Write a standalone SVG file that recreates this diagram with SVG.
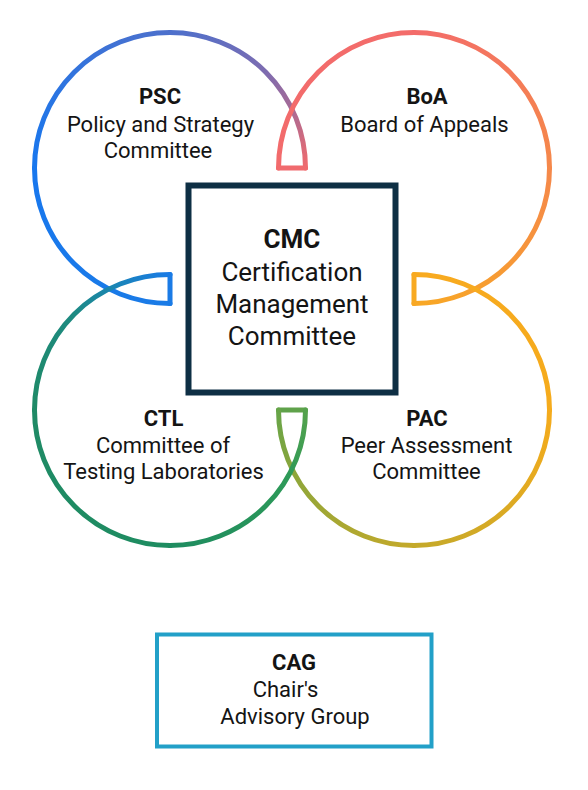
<svg xmlns="http://www.w3.org/2000/svg" width="588" height="790" viewBox="0 0 588 790">
  <style>
    .ring { fill: none; stroke-width: 5; stroke-linecap: round; }
    .lbl { font-family: Roboto, "Liberation Sans", sans-serif; font-size: 22px; fill: #141414; text-anchor: middle; }
    .b { font-weight: bold; }
    .cmc { font-size: 26px; }
  </style>
  <defs>
    <linearGradient id="gPSC1" gradientUnits="userSpaceOnUse" x1="170" y1="303.5" x2="34.5" y2="168"><stop offset="0" stop-color="#1a7be6"/><stop offset="1" stop-color="#1877ee"/></linearGradient>
    <linearGradient id="gPSC2" gradientUnits="userSpaceOnUse" x1="34.5" y1="168" x2="170" y2="32.5"><stop offset="0" stop-color="#1877ee"/><stop offset="1" stop-color="#4d70cc"/></linearGradient>
    <linearGradient id="gPSC3" gradientUnits="userSpaceOnUse" x1="170" y1="32.5" x2="305.5" y2="168"><stop offset="0" stop-color="#4d70cc"/><stop offset="0.5" stop-color="#7e6cb0"/><stop offset="0.73" stop-color="#a66a95"/><stop offset="1" stop-color="#f06b6e"/></linearGradient>
    <linearGradient id="gBoA1" gradientUnits="userSpaceOnUse" x1="278.5" y1="168" x2="414" y2="32.5"><stop offset="0" stop-color="#f26b6c"/><stop offset="1" stop-color="#f36c6a"/></linearGradient>
    <linearGradient id="gBoA2" gradientUnits="userSpaceOnUse" x1="414" y1="32.5" x2="549.5" y2="168"><stop offset="0" stop-color="#f36c6a"/><stop offset="1" stop-color="#f5884a"/></linearGradient>
    <linearGradient id="gBoA3" gradientUnits="userSpaceOnUse" x1="549.5" y1="168" x2="414" y2="303.5"><stop offset="0" stop-color="#f5884a"/><stop offset="1" stop-color="#f8a824"/></linearGradient>
    <linearGradient id="gPAC1" gradientUnits="userSpaceOnUse" x1="414" y1="274.5" x2="549.5" y2="410"><stop offset="0" stop-color="#f8aa20"/><stop offset="1" stop-color="#f5ab1c"/></linearGradient>
    <linearGradient id="gPAC2" gradientUnits="userSpaceOnUse" x1="549.5" y1="410" x2="414" y2="545.5"><stop offset="0" stop-color="#f5ab1c"/><stop offset="1" stop-color="#c4a92a"/></linearGradient>
    <linearGradient id="gPAC3" gradientUnits="userSpaceOnUse" x1="414" y1="545.5" x2="278.5" y2="410"><stop offset="0" stop-color="#c4a92a"/><stop offset="0.7" stop-color="#8ea63a"/><stop offset="1" stop-color="#66a448"/></linearGradient>
    <linearGradient id="gCTL1" gradientUnits="userSpaceOnUse" x1="305.5" y1="410" x2="170" y2="545.5"><stop offset="0" stop-color="#55a24c"/><stop offset="0.3" stop-color="#2e9a58"/><stop offset="1" stop-color="#1e8c60"/></linearGradient>
    <linearGradient id="gCTL2" gradientUnits="userSpaceOnUse" x1="170" y1="545.5" x2="34.5" y2="410"><stop offset="0" stop-color="#1e8c60"/><stop offset="1" stop-color="#1f8a66"/></linearGradient>
    <linearGradient id="gCTL3" gradientUnits="userSpaceOnUse" x1="34.5" y1="410" x2="170" y2="274.5"><stop offset="0" stop-color="#1f8a66"/><stop offset="0.5" stop-color="#1d8a82"/><stop offset="0.73" stop-color="#1a86b0"/><stop offset="1" stop-color="#1a7be6"/></linearGradient>
  </defs>
  <rect width="588" height="790" fill="#ffffff"/>

  <g id="connectors">
    <path class="ring" stroke="#f06b6e" d="M 305.5 168 L 278.5 168"/>
    <path class="ring" stroke="#f8aa22" d="M 414 303.5 L 414 274.5"/>
    <path class="ring" stroke="#5fa24a" d="M 278.5 410 L 305.5 410"/>
    <path class="ring" stroke="#1a7be6" d="M 170 274.5 L 170 303.5"/>
  </g>

  <g id="PSC">
    <path class="ring" stroke="url(#gPSC1)" d="M 170 303.5 A 135.5 135.5 0 0 1 34.5 168"/>
    <path class="ring" stroke="url(#gPSC2)" d="M 34.5 168 A 135.5 135.5 0 0 1 170 32.5"/>
    <path class="ring" stroke="url(#gPSC3)" d="M 170 32.5 A 135.5 135.5 0 0 1 305.5 168"/>
    <text class="lbl b" x="160" y="104">PSC</text>
    <text class="lbl" x="160.5" y="131.5">Policy and Strategy</text>
    <text class="lbl" x="158" y="158">Committee</text>
  </g>

  <g id="BoA">
    <path class="ring" stroke="url(#gBoA1)" d="M 278.5 168 A 135.5 135.5 0 0 1 414 32.5"/>
    <path class="ring" stroke="url(#gBoA2)" d="M 414 32.5 A 135.5 135.5 0 0 1 549.5 168"/>
    <path class="ring" stroke="url(#gBoA3)" d="M 549.5 168 A 135.5 135.5 0 0 1 414 303.5"/>
    <text class="lbl b" x="427" y="104">BoA</text>
    <text class="lbl" x="424.5" y="131.5">Board of Appeals</text>
  </g>

  <g id="PAC">
    <path class="ring" stroke="url(#gPAC1)" d="M 414 274.5 A 135.5 135.5 0 0 1 549.5 410"/>
    <path class="ring" stroke="url(#gPAC2)" d="M 549.5 410 A 135.5 135.5 0 0 1 414 545.5"/>
    <path class="ring" stroke="url(#gPAC3)" d="M 414 545.5 A 135.5 135.5 0 0 1 278.5 410"/>
    <text class="lbl b" x="427" y="426">PAC</text>
    <text class="lbl" x="426.5" y="452.5">Peer Assessment</text>
    <text class="lbl" x="426.5" y="479">Committee</text>
  </g>

  <g id="CTL">
    <path class="ring" stroke="url(#gCTL1)" d="M 305.5 410 A 135.5 135.5 0 0 1 170 545.5"/>
    <path class="ring" stroke="url(#gCTL2)" d="M 170 545.5 A 135.5 135.5 0 0 1 34.5 410"/>
    <path class="ring" stroke="url(#gCTL3)" d="M 34.5 410 A 135.5 135.5 0 0 1 170 274.5"/>
    <text class="lbl b" x="163.5" y="426">CTL</text>
    <text class="lbl" x="163" y="452.5">Committee of</text>
    <text class="lbl" x="163.5" y="479">Testing Laboratories</text>
  </g>

  <g id="CMC">
    <rect x="188.5" y="185.5" width="207" height="207" fill="#ffffff" stroke="#0e2f44" stroke-width="6"/>
    <text class="lbl cmc b" x="292" y="248">CMC</text>
    <text class="lbl cmc" x="292" y="281">Certification</text>
    <text class="lbl cmc" x="292" y="313">Management</text>
    <text class="lbl cmc" x="292" y="345">Committee</text>
  </g>

  <g id="CAG">
    <rect x="157" y="634.5" width="274.5" height="112" fill="#ffffff" stroke="#22a0c8" stroke-width="4"/>
    <text class="lbl b" x="294" y="670">CAG</text>
    <text class="lbl" x="285.5" y="697">Chair's</text>
    <text class="lbl" x="295" y="723.5">Advisory Group</text>
  </g>
</svg>
